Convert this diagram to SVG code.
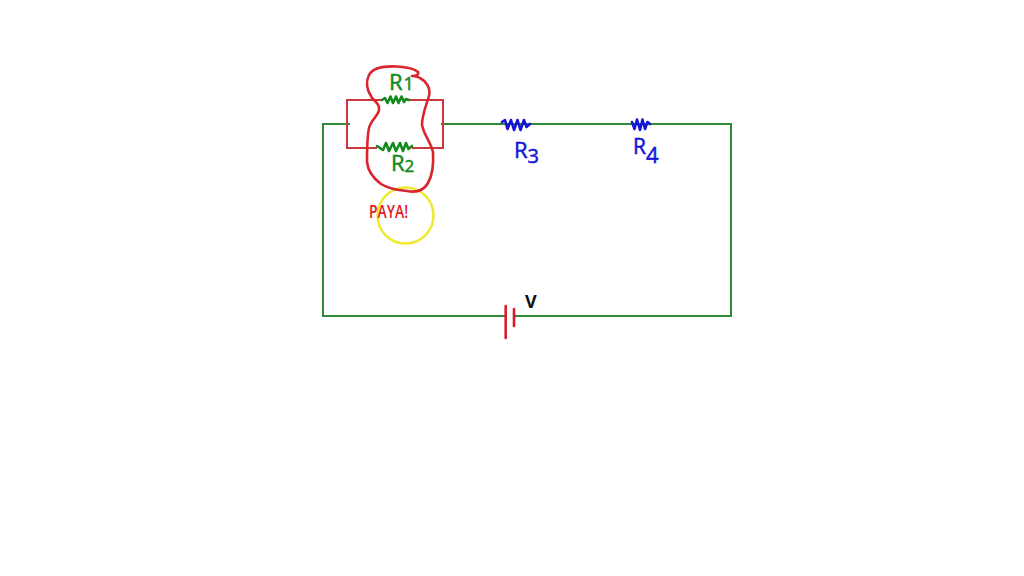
<svg xmlns="http://www.w3.org/2000/svg" width="1024" height="576" viewBox="0 0 1024 576">
<style>
.wire{fill:none;stroke:#2e8b3a;stroke-width:2}
.box{fill:none;stroke:#c8383c;stroke-width:2}
.res{fill:none;stroke-width:2.600;stroke-linejoin:round;stroke-linecap:round}
.g{stroke:#128a1e}.b{stroke:#1414d8}
.plate{stroke:#d4202a;stroke-width:2.600;stroke-linecap:round}
text{font-family:"Open Sans","Liberation Sans",sans-serif}
.lg{fill:#128a1e;stroke:#128a1e;stroke-width:.5}.lb{fill:#1414d8;stroke:#1414d8;stroke-width:.5}
</style>
<rect width="1024" height="576" fill="#fff"/>
<g id="connectors">
<path class="wire" d="M350 124H323V316H505M515 316H731V124H441"/>
<path class="box" d="M382 100H347V148H377M412 148H443V100H409"/>
</g>
<g id="R1">
<path class="res g" d="M382 100L385 98L387.500 103L390.500 96.500L393 103L396 96.500L398.500 103L401.500 96.500L404 102L406 99L409 100"/>
<text class="lg" x="389" y="90" font-size="22">R<tspan font-size="18" dx="1">1</tspan></text>
</g>
<g id="R2">
<path class="res g" d="M377 146L380 148L383 150L386 143L389 151L393 143L396 151L400 143L403 151L406 143L408.500 149L412 146"/>
<text class="lg" x="391" y="171" font-size="22">R<tspan font-size="17" dy="1">2</tspan></text>
</g>
<g id="R3">
<path class="res b" d="M502 122L505 120L507.500 129L511 120L514 130L517.500 120L520.500 130L524 120L526.500 127L530 124"/>
<text class="lb" x="514" y="158" font-size="22">R<tspan font-size="20" dy="5">3</tspan></text>
</g>
<g id="R4">
<path class="res b" d="M632 122L634.500 129L637 119.500L640 130L642.500 119.500L645 129L647.500 122L650 124"/>
<text class="lb" x="633" y="154" font-size="21">R<tspan font-size="22" dy="9">4</tspan></text>
</g>
<g id="battery">
<line class="plate" x1="505.700" y1="306" x2="505.700" y2="338"/>
<line class="plate" x1="514" y1="309" x2="514" y2="326"/>
<text x="525" y="308" font-size="18" font-weight="700" fill="#111">V</text>
</g>
<g id="highlight">
<circle cx="405.500" cy="215.500" r="28" fill="none" stroke="#f0e930" stroke-width="2.500"/>
</g>
<g id="payal">
<text x="369" y="218" font-size="18" font-weight="600" fill="#e01a22" textLength="39" lengthAdjust="spacingAndGlyphs">PAYA!</text>
</g>
<g id="outline">
<path fill="none" stroke="#d9262c" stroke-width="2.600" stroke-linecap="round" stroke-linejoin="round" d="M412 76C416 76 419 75 418 72C414 68 406 67 397 66.500C385 66 373 67 369 75C365 83 368 92 372 98C376 102 380 105 379 110C378 116 371 120 369 128C367 137 367 150 367 162C368 172 373 178 381 184C389 189 398 190 407 191C417 193 424 190 428 183C432 176 434 168 433 152C431 143 424 135 422 125C422 115 426 106 429 96C431 88 426 81 420 78C417 76 414 76 412 76"/>
</g>
</svg>
